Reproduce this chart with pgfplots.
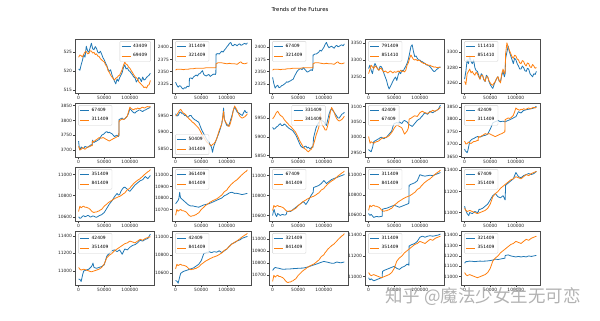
\documentclass[border=0pt]{standalone}
\usepackage{pgfplots}
\usepackage{pgfplotstable}
\pgfplotsset{compat=1.18}
\usepackage{fontspec}
\setmainfont{DejaVu Sans}
\newfontfamily\cjk{Noto Sans CJK SC}
\definecolor{c1}{HTML}{1F77B4}
\definecolor{c2}{HTML}{FF7F0E}
\pgfplotsset{
  panel/.style={
    scale only axis, width=79pt, height=54pt, anchor=south west,
    xmin=-7, xmax=147, xtick={0,50,100}, xticklabels={0,50000,100000},
    scaled ticks=false,
    /pgf/number format/assume math mode=true,
    /pgf/number format/1000 sep={},
    tick align=outside, tick pos=left, major tick length=1.8pt,
    every tick/.style={black!75, line width=0.4pt},
    axis line style={black!70, line width=0.5pt},
    tick label style={font=\fontsize{4.4}{5}\selectfont, text=black!85},
    xticklabel style={inner sep=1pt}, yticklabel style={inner sep=1pt},
    legend cell align=left,
    legend image code/.code={\draw[##1, line width=0.8pt] (0pt,0pt) -- (9pt,0pt);},
    legend style={draw=black!18, rounded corners=1pt, fill=white, fill opacity=0.8, text opacity=1,
      font=\fontsize{4.4}{5}\selectfont, inner xsep=1.5pt, inner ysep=1pt,
      at={(0.04,0.96)}, anchor=north west, row sep=0.6pt},
    every axis plot/.append style={line width=0.8pt, no markers, line join=round},
  },
}
% shared series
\pgfplotstableread{
x y
0 2353
2.5 2355
5 2355
10 2355
15 2354
20 2355
25 2355
30 2356
35 2356
40 2357
45 2357
50 2357
55 2357
60 2358
65 2358
70 2358
75 2358
78.5 2358
79 2366
82.5 2368
85 2368
90 2368
95 2367
100 2366
105 2367
110 2366
115 2366
120 2365
125 2369
127.5 2370
130 2367
135 2366
140 2368
}\tA
\pgfplotstableread{
x y
0 5948
2.5 5952
5 5958
7.5 5965
10 5968
12.5 5962
15 5957
17.5 5955
20 5952
22.5 5946
25 5942
27.5 5938
30 5935
32.5 5930
35 5928
37.5 5924
40 5920
42.5 5916
45 5912
47.5 5905
50 5898
52.5 5890
55 5884
57.5 5878
60 5872
62.5 5868
65 5866
67.5 5862
70 5860
72.5 5864
75 5866
77.5 5872
80 5880
82.5 5892
85 5905
87.5 5915
90 5925
92 5945
93.5 5962
95 5938
97.5 5930
100 5925
102.5 5918
105 5918
107.5 5930
110 5945
112.5 5965
115 5978
117.5 5972
120 5965
122.5 5955
125 5948
127.5 5944
130 5942
132.5 5944
135 5946
137.5 5950
140 5955
}\tB
\pgfplotstableread{
x y
0 3712
2.5 3700
5 3702
7.5 3708
10 3705
12.5 3702
15 3706
17.5 3710
20 3710
22.5 3712
25 3715
26.5 3714
27 3730
30 3728
32.5 3732
35 3735
37.5 3738
40 3742
42.5 3740
45 3740
47.5 3742
50 3740
52.5 3737
55 3735
57.5 3732
60 3730
62.5 3733
65 3735
67.5 3738
70 3740
72.5 3742
75 3745
77.5 3748
78.5 3750
79 3798
82.5 3802
85 3805
87.5 3803
90 3805
92.5 3810
95 3815
97.5 3830
100 3845
102.5 3840
105 3838
107.5 3836
110 3840
112.5 3838
115 3842
117.5 3840
120 3840
122.5 3843
125 3845
127.5 3842
130 3843
132.5 3846
135 3847
137.5 3845
140 3848
}\tC
\pgfplotstableread{
x y
0 10650
2.5 10700
5 10685
7.5 10695
10 10700
12.5 10690
15 10690
17.5 10685
20 10680
22.5 10670
25 10655
27.5 10645
30 10640
32.5 10645
35 10645
37.5 10652
40 10655
42.5 10665
45 10670
47.5 10685
50 10700
52.5 10710
55 10720
57.5 10732
60 10740
62.5 10748
65 10755
67.5 10765
70 10770
72.5 10778
75 10782
77.5 10788
80 10792
82.5 10800
85 10808
87.5 10818
90 10825
92.5 10840
95 10855
97.5 10862
100 10870
102.5 10888
105 10900
107.5 10915
110 10925
112.5 10935
115 10945
117.5 10952
120 10960
122.5 10972
125 10982
127.5 10995
130 11005
132.5 11015
135 11025
137.5 11032
140 11045
}\tD
\pgfplotstableread{
x y
0 11040
2.5 11020
5 11010
7.5 11015
10 11020
12.5 11015
15 11010
17.5 11005
20 11000
22.5 10995
25 10990
27.5 10995
30 11000
32.5 11005
35 11010
37.5 11015
40 11020
42.5 11030
45 11040
47.5 11060
50 11080
52.5 11115
55 11150
57.5 11165
60 11180
62.5 11190
65 11200
67.5 11215
70 11230
72.5 11240
75 11250
77.5 11260
80 11270
82.5 11280
85 11290
87.5 11300
90 11310
92.5 11315
95 11320
97.5 11330
100 11340
102.5 11335
105 11330
107.5 11325
110 11320
112.5 11330
115 11340
117.5 11350
120 11360
122.5 11355
125 11350
127.5 11360
130 11370
132.5 11375
135 11380
137.5 11385
140 11390
}\tE
\begin{document}
\begin{tikzpicture}
\path[use as bounding box] (0pt,0pt) rectangle (600pt,321pt);
\node[font=\fontsize{5.4}{6}\selectfont] at (300pt,311.5pt) {Trends of the Futures};

% ---------- Row 1 ----------
\begin{axis}[panel, at={(75pt,228pt)}, ymin=514.2, ymax=528.4, ytick={515,520,525},
  legend style={at={(0.96,0.96)},anchor=north east}]
\addplot[c1] coordinates {(0,520.5)(2.5,520.2)(5,521.6)(7.5,522.8)(10,524.3)(12.5,523.6)(15,526.5)(17.5,525.3)(20,524.9)(22.5,526.1)(25,527.3)(27.5,525.8)(30,525.6)(32.5,526.4)(35,525.9)(37.5,524.9)(40,524.7)(42.5,525.2)(45,524.4)(47.5,523.5)(50,522.9)(52.5,522.1)(55,521.4)(57.5,520.4)(60,519.9)(62.5,520.3)(65,519.0)(67.5,518.1)(70,517.3)(72.5,516.6)(75,517.9)(77.5,517.3)(80,518.2)(82.5,518.9)(85,519.6)(87.5,520.9)(90,521.6)(92.5,520.5)(95,520.8)(97.5,520.1)(100,519.9)(102.5,519.4)(105,519.0)(107.5,518.4)(110,518.2)(112.5,517.1)(115,517.6)(117.5,518.3)(120,517.9)(122.5,517.2)(125,518.4)(127.5,517.6)(130,517.8)(132.5,518.3)(135,518.6)(137.5,518.9)(140,519.4)};
\addplot[c2] coordinates {(0,523.6)(2.5,524.2)(5,524.0)(7.5,523.7)(10,524.4)(12.5,525.0)(15,525.1)(17.5,524.5)(20,524.6)(22.5,525.3)(25,525.2)(27.5,524.7)(30,524.9)(32.5,524.3)(35,524.5)(37.5,523.9)(40,523.8)(42.5,523.2)(45,522.9)(47.5,522.6)(50,522.4)(52.5,521.6)(55,521.2)(57.5,520.1)(60,519.6)(62.5,518.9)(65,518.4)(67.5,518.0)(70,517.6)(72.5,518.1)(75,518.3)(77.5,518.7)(80,518.9)(82.5,519.6)(85,520.4)(87.5,521.5)(90,522.3)(92.5,521.8)(95,521.6)(97.5,521.0)(100,520.7)(102.5,520.1)(105,519.6)(107.5,519.0)(110,518.5)(112.5,518.2)(115,517.9)(117.5,517.1)(120,516.8)(122.5,516.4)(125,516.1)(127.5,515.6)(130,515.8)(132.5,515.5)(135,516.2)(137.5,516.4)(140,517.5)};
\legend{43409,69409}
\end{axis}

\begin{axis}[panel, at={(172pt,228pt)}, ymin=2306, ymax=2417, ytick={2325,2350,2375,2400}]
\addplot[c1] coordinates {(0,2328)(2.5,2322)(5,2318)(7.5,2321)(10,2320)(12.5,2316)(15,2314)(17.5,2317)(20,2316)(22.5,2320)(25,2319)(26.5,2320)(27,2336)(30,2337)(32.5,2335)(35,2339)(37.5,2341)(40,2343)(42.5,2341)(45,2345)(47.5,2346)(50,2349)(52.5,2352)(55,2344)(57.5,2342)(60,2341)(62.5,2343)(65,2344)(67.5,2340)(70,2342)(72.5,2344)(75,2345)(77.5,2344)(78.5,2347)(79,2386)(82.5,2387)(85,2386)(87.5,2389)(90,2392)(92.5,2390)(95,2394)(97.5,2397)(100,2401)(102.5,2404)(105,2408)(107.5,2410)(110,2404)(112.5,2403)(115,2406)(117.5,2405)(120,2403)(122.5,2406)(125,2407)(127.5,2404)(130,2405)(132.5,2407)(135,2408)(137.5,2406)(140,2409)};
\addplot[c2] table[x=x,y=y] {\tA};
\legend{311409,321409}
\end{axis}

\begin{axis}[panel, at={(269pt,228pt)}, ymin=2306, ymax=2417, ytick={2325,2350,2375,2400}]
\addplot[c1] coordinates {(0,2338)(2.5,2325)(5,2316)(7.5,2320)(10,2322)(12.5,2317)(15,2318)(17.5,2321)(20,2322)(22.5,2324)(25,2326)(27.5,2329)(30,2328)(32.5,2330)(35,2331)(37.5,2333)(40,2334)(42.5,2340)(45,2345)(47.5,2350)(50,2353)(52.5,2355)(55,2356)(57.5,2354)(60,2358)(62.5,2355)(65,2352)(67.5,2349)(70,2350)(72.5,2352)(75,2354)(77.5,2352)(78.5,2356)(79,2384)(82.5,2386)(85,2386)(87.5,2388)(90,2390)(92.5,2394)(95,2392)(97.5,2396)(100,2400)(102.5,2406)(105,2410)(107.5,2403)(110,2399)(112.5,2401)(115,2402)(117.5,2400)(120,2398)(122.5,2402)(125,2404)(127.5,2401)(130,2402)(132.5,2404)(135,2405)(137.5,2403)(140,2407)};
\addplot[c2] table[x=x,y=y] {\tA};
\legend{67409,321409}
\end{axis}

\begin{axis}[panel, at={(365pt,228pt)}, ymin=3203, ymax=3362, ytick={3250,3300,3350}]
\addplot[c1] coordinates {(0,3275)(2.5,3285)(5,3270)(7.5,3260)(10,3280)(12.5,3290)(15,3282)(17.5,3275)(20,3270)(22.5,3282)(25,3280)(27.5,3272)(30,3260)(32.5,3250)(35,3240)(37.5,3225)(40,3215)(42.5,3222)(45,3230)(47.5,3238)(50,3245)(52.5,3250)(55,3240)(57.5,3255)(60,3265)(62.5,3260)(65,3270)(67.5,3268)(70,3275)(72.5,3282)(75,3290)(77.5,3302)(80,3320)(82.5,3340)(85,3345)(87.5,3325)(90,3310)(92.5,3312)(95,3305)(97.5,3300)(100,3300)(102.5,3296)(105,3295)(107.5,3292)(110,3290)(112.5,3286)(115,3285)(117.5,3283)(120,3280)(122.5,3275)(125,3270)(127.5,3266)(130,3268)(132.5,3272)(135,3275)(137.5,3278)(140,3280)};
\addplot[c2] coordinates {(0,3260)(2.5,3272)(5,3285)(7.5,3280)(10,3275)(12.5,3282)(15,3280)(17.5,3274)(20,3270)(22.5,3276)(25,3275)(27.5,3268)(30,3265)(32.5,3268)(35,3265)(37.5,3262)(40,3265)(42.5,3268)(45,3265)(47.5,3262)(50,3266)(52.5,3264)(55,3265)(57.5,3268)(60,3265)(62.5,3270)(65,3266)(67.5,3268)(70,3265)(72.5,3270)(75,3285)(77.5,3292)(80,3305)(82.5,3315)(85,3308)(87.5,3302)(90,3300)(92.5,3302)(95,3298)(97.5,3300)(100,3298)(102.5,3294)(105,3292)(107.5,3290)(110,3290)(112.5,3287)(115,3286)(117.5,3284)(120,3285)(122.5,3282)(125,3281)(127.5,3279)(130,3280)(132.5,3278)(135,3278)(137.5,3279)(140,3278)};
\legend{791409,851410}
\end{axis}

\begin{axis}[panel, at={(461pt,228pt)}, ymin=3247, ymax=3317, ytick={3260,3280,3300}]
\addplot[c1] coordinates {(0,3265)(2.5,3275)(5,3290)(7.5,3285)(10,3295)(12.5,3288)(15,3285)(17.5,3290)(20,3280)(22.5,3276)(25,3275)(27.5,3270)(30,3265)(32.5,3272)(35,3270)(37.5,3264)(40,3262)(42.5,3270)(45,3268)(47.5,3262)(50,3258)(52.5,3255)(55,3253)(57.5,3258)(60,3262)(62.5,3266)(65,3268)(67.5,3262)(70,3262)(72.5,3270)(75,3275)(77.5,3268)(79,3272)(80,3292)(82.5,3300)(85,3308)(87.5,3300)(90,3295)(92.5,3290)(95,3285)(97.5,3292)(100,3290)(102.5,3285)(105,3282)(107.5,3278)(110,3278)(112.5,3282)(115,3280)(117.5,3276)(120,3275)(122.5,3279)(125,3278)(127.5,3272)(130,3270)(132.5,3268)(135,3272)(137.5,3271)(140,3275)};
\addplot[c2] coordinates {(0,3262)(2.5,3258)(5,3272)(7.5,3275)(10,3278)(12.5,3273)(15,3275)(17.5,3272)(20,3270)(22.5,3274)(25,3272)(27.5,3268)(30,3265)(32.5,3270)(35,3270)(37.5,3265)(40,3262)(42.5,3268)(45,3268)(47.5,3263)(50,3260)(52.5,3258)(55,3257)(57.5,3260)(60,3262)(62.5,3266)(65,3268)(67.5,3263)(70,3260)(72.5,3272)(75,3278)(77.5,3272)(79,3275)(80,3298)(82.5,3312)(85,3306)(87.5,3302)(90,3298)(92.5,3294)(95,3292)(97.5,3296)(100,3295)(102.5,3291)(105,3290)(107.5,3286)(110,3285)(112.5,3289)(115,3288)(117.5,3284)(120,3282)(122.5,3286)(125,3285)(127.5,3281)(130,3280)(132.5,3284)(135,3282)(137.5,3279)(140,3280)};
\legend{111410,851410}
\end{axis}

% ---------- Row 2 ----------
\begin{axis}[panel, at={(75pt,164pt)}, ymin=3676, ymax=3859, ytick={3700,3750,3800,3850}]
\addplot[c1] coordinates {(0,3730)(1.5,3705)(2.5,3700)(5,3710)(7.5,3706)(10,3705)(12.5,3712)(15,3710)(17.5,3708)(20,3712)(22.5,3715)(25,3718)(26.5,3716)(27,3733)(30,3725)(32.5,3728)(35,3730)(37.5,3733)(40,3735)(42.5,3742)(45,3750)(47.5,3752)(50,3755)(52.5,3760)(55,3762)(57.5,3758)(60,3760)(62.5,3757)(65,3755)(67.5,3750)(70,3745)(72.5,3748)(75,3750)(77.5,3745)(78.5,3748)(79,3803)(82.5,3806)(85,3808)(87.5,3803)(90,3805)(92.5,3810)(95,3815)(97.5,3825)(100,3840)(102.5,3835)(105,3830)(107.5,3826)(110,3825)(112.5,3830)(115,3832)(117.5,3835)(120,3835)(122.5,3832)(125,3830)(127.5,3834)(130,3835)(132.5,3838)(135,3840)(137.5,3842)(140,3845)};
\addplot[c2] table[x=x,y=y] {\tC};
\legend{67409,311409}
\end{axis}

\begin{axis}[panel, at={(172pt,164pt)}, ymin=5826, ymax=5987, ytick={5850,5900,5950},
  legend style={at={(0.04,0.04)},anchor=south west}]
\addplot[c1] coordinates {(0,5955)(2.5,5948)(5,5950)(7.5,5958)(10,5960)(12.5,5955)(15,5955)(17.5,5950)(20,5950)(22.5,5945)(25,5945)(27.5,5950)(30,5950)(32.5,5944)(35,5940)(37.5,5937)(40,5935)(42.5,5932)(45,5930)(47.5,5920)(50,5910)(52.5,5902)(55,5895)(57.5,5888)(60,5880)(62.5,5875)(65,5870)(67.5,5862)(70,5855)(72,5840)(73.5,5852)(75,5860)(77.5,5870)(80,5880)(82.5,5890)(85,5900)(87.5,5912)(90,5925)(92,5945)(93.5,5972)(95,5940)(97.5,5928)(100,5920)(102.5,5918)(105,5925)(107.5,5938)(110,5950)(112.5,5965)(115,5975)(117.5,5968)(120,5960)(122.5,5958)(125,5955)(127.5,5952)(130,5950)(132.5,5958)(135,5965)(137.5,5958)(140,5960)};
\addplot[c2] table[x=x,y=y] {\tB};
\legend{50409,341409}
\end{axis}

\begin{axis}[panel, at={(269pt,164pt)}, ymin=5846, ymax=5990, ytick={5850,5900,5950},
  legend style={at={(0.5,0.96)},anchor=north}]
\addplot[c1] coordinates {(0,5925)(2.5,5920)(5,5922)(7.5,5926)(10,5928)(12.5,5932)(15,5935)(17.5,5930)(20,5930)(22.5,5934)(25,5932)(27.5,5928)(30,5925)(32.5,5922)(35,5920)(37.5,5918)(40,5915)(42.5,5910)(45,5905)(47.5,5898)(50,5890)(52.5,5882)(55,5875)(57.5,5872)(60,5870)(62.5,5874)(65,5875)(67.5,5870)(70,5872)(72.5,5868)(75,5870)(77.5,5874)(78.5,5872)(80,5898)(82.5,5912)(85,5925)(87.5,5932)(90,5938)(92.5,5942)(95,5945)(97.5,5942)(100,5940)(102.5,5934)(105,5930)(107.5,5945)(110,5960)(112.5,5970)(115,5975)(117.5,5970)(120,5965)(122.5,5960)(125,5955)(127.5,5950)(130,5950)(132.5,5955)(135,5960)(137.5,5962)(140,5965)};
\addplot[c2] table[x=x,y=y] {\tB};
\legend{331409,341409}
\end{axis}

\begin{axis}[panel, at={(365pt,164pt)}, ymin=2935, ymax=3112, ytick={2950,3000,3050,3100}]
\addplot[c1] coordinates {(0,2960)(1.5,2956)(3,2955)(5,2952)(6.5,2960)(8,2968)(10,2985)(12.5,2988)(15,2990)(17.5,2993)(20,2995)(22.5,2998)(25,3000)(27.5,2997)(30,2995)(32.5,2998)(35,3000)(37.5,3005)(40,3010)(42.5,3015)(45,3020)(47.5,3035)(50,3045)(52.5,3046)(55,3048)(57.5,3046)(60,3050)(62.5,3047)(65,3045)(67.5,3052)(70,3055)(72.5,3052)(75,3050)(77.5,3044)(80,3040)(82.5,3038)(85,3035)(87.5,3040)(90,3045)(92.5,3050)(95,3055)(97.5,3058)(100,3060)(102.5,3066)(105,3070)(107.5,3076)(110,3080)(112.5,3077)(115,3075)(117.5,3080)(120,3085)(122.5,3082)(125,3080)(127.5,3083)(130,3085)(132.5,3088)(135,3090)(137.5,3096)(140,3105)};
\addplot[c2] coordinates {(0,3002)(1.5,2990)(3,2980)(5,2985)(7.5,2982)(10,2980)(12.5,2983)(15,2985)(17.5,2986)(20,2988)(22.5,2992)(25,2995)(27.5,2997)(30,2998)(32.5,2999)(35,3000)(37.5,3002)(40,3005)(42.5,3010)(45,3015)(47.5,3022)(50,3030)(52.5,3035)(55,3040)(57.5,3038)(60,3035)(62.5,3033)(65,3030)(67.5,3020)(70,3010)(72.5,3015)(75,3020)(77.5,3030)(79,3058)(80,3060)(82.5,3062)(85,3065)(87.5,3068)(90,3070)(92.5,3069)(95,3068)(97.5,3074)(100,3080)(102.5,3083)(105,3085)(107.5,3082)(110,3080)(112.5,3079)(115,3078)(117.5,3080)(120,3082)(122.5,3085)(125,3088)(127.5,3086)(130,3085)(132.5,3088)(135,3090)(137.5,3093)(140,3098)};
\legend{42409,67409}
\end{axis}

\begin{axis}[panel, at={(461pt,164pt)}, ymin=3648, ymax=3865, ytick={3650,3700,3750,3800,3850}]
\addplot[c1] coordinates {(0,3680)(1.5,3672)(3,3670)(5,3665)(6.5,3675)(8,3690)(10,3710)(12.5,3716)(15,3720)(17.5,3722)(20,3725)(22.5,3728)(25,3730)(27.5,3729)(30,3728)(32.5,3730)(35,3732)(37.5,3734)(40,3735)(42.5,3737)(45,3740)(47.5,3750)(50,3760)(52.5,3772)(55,3785)(57.5,3788)(60,3790)(62.5,3792)(65,3795)(67.5,3792)(70,3790)(72.5,3791)(75,3792)(77.5,3790)(80,3790)(82.5,3793)(85,3795)(87.5,3797)(90,3800)(92.5,3802)(95,3805)(97.5,3808)(100,3810)(102.5,3820)(105,3830)(107.5,3827)(110,3825)(112.5,3830)(115,3835)(117.5,3836)(120,3838)(122.5,3839)(125,3840)(127.5,3841)(130,3842)(132.5,3843)(135,3845)(137.5,3848)(140,3852)};
\addplot[c2] table[x=x,y=y] {\tC};
\legend{42409,311409}
\end{axis}

% ---------- Row 3 ----------
\begin{axis}[panel, at={(75pt,100pt)}, ymin=10560, ymax=11070, ytick={10600,10800,11000}]
\addplot[c1] coordinates {(0,10600)(2.5,10585)(5,10590)(7.5,10605)(10,10610)(12.5,10600)(15,10605)(17.5,10612)(20,10610)(22.5,10598)(25,10600)(27.5,10608)(30,10605)(32.5,10598)(35,10595)(37.5,10602)(40,10610)(42.5,10615)(45,10620)(47.5,10630)(50,10640)(52.5,10660)(55,10680)(57.5,10700)(60,10720)(62.5,10735)(65,10750)(67.5,10770)(70,10790)(72.5,10805)(75,10820)(77.5,10805)(80,10810)(82.5,10840)(85,10860)(87.5,10875)(90,10880)(92.5,10870)(95,10860)(97.5,10848)(100,10840)(102.5,10855)(105,10870)(107.5,10885)(110,10900)(112.5,10910)(115,10920)(117.5,10930)(120,10940)(122.5,10945)(125,10950)(127.5,10965)(130,10980)(132.5,10970)(135,10960)(137.5,10975)(140,10990)};
\addplot[c2] table[x=x,y=y] {\tD};
\legend{351409,841409}
\end{axis}

\begin{axis}[panel, at={(172pt,100pt)}, ymin=10600, ymax=11070, ytick={10700,10800,10900,11000}]
\addplot[c1] coordinates {(0,10750)(2.5,10765)(5,10780)(6.5,10800)(8,10850)(9,10815)(10,10800)(12.5,10790)(15,10780)(17.5,10770)(20,10760)(22.5,10750)(25,10740)(27.5,10735)(30,10730)(32.5,10732)(35,10730)(37.5,10726)(40,10725)(42.5,10722)(45,10720)(47.5,10725)(50,10730)(52.5,10735)(55,10740)(57.5,10742)(60,10745)(62.5,10748)(65,10750)(67.5,10755)(70,10760)(72.5,10765)(75,10770)(77.5,10775)(80,10780)(82.5,10786)(85,10790)(87.5,10795)(90,10800)(92.5,10810)(95,10820)(97.5,10825)(100,10830)(102.5,10838)(105,10845)(107.5,10848)(110,10850)(112.5,10845)(115,10840)(117.5,10842)(120,10840)(122.5,10838)(125,10835)(127.5,10832)(130,10830)(132.5,10833)(135,10835)(137.5,10838)(140,10840)};
\addplot[c2] table[x=x,y=y] {\tD};
\legend{361409,841409}
\end{axis}

\begin{axis}[panel, at={(269pt,100pt)}, ymin=10545, ymax=11085, ytick={10600,10800,11000}]
\addplot[c1] coordinates {(0,10600)(1.5,10640)(3,10660)(5,10620)(6.5,10600)(8,10590)(10,10620)(12.5,10610)(15,10600)(17.5,10608)(20,10610)(22.5,10604)(25,10605)(27,10615)(28,10640)(30,10640)(32.5,10642)(35,10640)(37.5,10650)(40,10660)(42.5,10670)(45,10680)(47.5,10690)(50,10700)(52.5,10710)(55,10720)(57.5,10730)(60,10740)(62.5,10725)(65,10710)(67.5,10730)(70,10750)(72.5,10775)(75,10800)(77.5,10820)(79,10830)(80,10880)(82.5,10885)(85,10890)(87.5,10895)(90,10900)(92.5,10910)(95,10920)(97.5,10935)(100,10950)(102.5,10935)(105,10920)(107.5,10930)(110,10940)(112.5,10950)(115,10960)(117.5,10965)(120,10970)(122.5,10975)(125,10980)(127.5,10985)(130,10990)(132.5,10995)(135,11000)(137.5,11005)(140,11010)};
\addplot[c2] table[x=x,y=y] {\tD};
\legend{67409,841409}
\end{axis}

\begin{axis}[panel, at={(365pt,100pt)}, ymin=10545, ymax=11075, ytick={10600,10800,11000}]
\addplot[c1] coordinates {(0,10620)(1.5,10605)(3,10600)(5,10610)(7.5,10595)(10,10580)(12.5,10585)(15,10590)(17.5,10588)(20,10585)(22.5,10588)(25,10590)(26.5,10592)(27,10660)(30,10665)(32.5,10668)(35,10670)(37.5,10675)(40,10680)(42.5,10685)(45,10690)(47.5,10695)(50,10700)(52.5,10695)(55,10690)(57.5,10685)(60,10680)(62.5,10685)(65,10690)(67.5,10695)(70,10700)(72.5,10705)(75,10710)(77.5,10715)(78.5,10720)(79,10895)(82.5,10905)(85,10910)(87.5,10915)(90,10920)(92.5,10930)(95,10940)(97.5,10970)(100,11000)(102.5,10995)(105,10990)(107.5,10988)(110,10985)(112.5,10988)(115,10990)(117.5,10992)(120,10995)(122.5,10992)(125,10990)(127.5,10995)(130,11000)(132.5,11005)(135,11010)(137.5,11015)(140,11020)};
\addplot[c2] table[x=x,y=y] {\tD};
\legend{311409,841409}
\end{axis}

\begin{axis}[panel, at={(461pt,100pt)}, ymin=10920, ymax=11432, ytick={11000,11200,11400}]
\addplot[c1] coordinates {(0,11060)(1.5,11030)(2.5,11020)(5,10990)(7.5,10975)(8,10970)(10,11000)(12.5,10995)(15,10990)(17.5,11000)(20,11010)(22.5,11005)(25,11000)(27,11010)(28,11030)(30,11030)(32.5,11035)(35,11040)(37.5,11050)(40,11060)(42.5,11070)(45,11080)(47.5,11100)(50,11120)(52.5,11140)(55,11160)(57.5,11170)(60,11180)(62.5,11165)(65,11150)(67.5,11145)(70,11140)(72.5,11150)(75,11160)(77.5,11135)(79,11120)(80,11260)(82.5,11270)(85,11280)(87.5,11290)(90,11300)(92.5,11310)(95,11320)(97.5,11350)(100,11380)(102.5,11360)(105,11340)(107.5,11335)(110,11330)(112.5,11340)(115,11350)(117.5,11355)(120,11360)(122.5,11365)(125,11370)(127.5,11365)(130,11360)(132.5,11365)(135,11370)(137.5,11380)(140,11390)};
\addplot[c2] table[x=x,y=y] {\tE};
\legend{67409,351409}
\end{axis}

% ---------- Row 4 ----------
\begin{axis}[panel, at={(75pt,36pt)}, ymin=10840, ymax=11455, ytick={11000,11200,11400}]
\addplot[c1] coordinates {(0,10910)(1.5,10905)(3,10900)(5,10880)(6.5,10920)(8,10960)(10,11000)(12.5,11005)(15,11010)(17.5,11015)(20,11020)(22.5,11035)(25,11050)(27,11070)(28,11090)(30,11040)(32.5,11035)(35,11030)(37.5,11035)(40,11040)(42.5,11045)(45,11050)(47.5,11060)(50,11070)(52.5,11120)(55,11170)(57.5,11185)(60,11200)(62.5,11215)(65,11230)(67.5,11235)(70,11240)(72.5,11230)(75,11220)(77.5,11230)(80,11240)(82.5,11215)(85,11190)(87.5,11220)(90,11250)(92.5,11245)(95,11240)(97.5,11255)(100,11270)(102.5,11280)(105,11290)(107.5,11295)(110,11300)(112.5,11310)(115,11320)(117.5,11335)(120,11350)(122.5,11345)(125,11340)(127.5,11350)(130,11360)(132.5,11365)(135,11370)(137.5,11395)(140,11420)};
\addplot[c2] table[x=x,y=y] {\tE};
\legend{42409,351409}
\end{axis}

\begin{axis}[panel, at={(172pt,36pt)}, ymin=10470, ymax=11070, ytick={10600,10800,11000}]
\addplot[c1] coordinates {(0,10520)(1.5,10515)(3,10510)(5,10490)(6.5,10525)(8,10560)(10,10600)(12.5,10610)(15,10620)(17.5,10625)(20,10630)(22.5,10635)(25,10640)(27.5,10645)(30,10650)(32.5,10655)(35,10660)(37.5,10670)(40,10680)(42.5,10690)(45,10700)(47.5,10720)(50,10740)(52.5,10780)(55,10820)(57.5,10825)(60,10830)(62.5,10835)(65,10840)(67.5,10835)(70,10830)(72.5,10835)(75,10840)(77.5,10838)(80,10835)(82.5,10842)(85,10850)(87.5,10840)(90,10830)(92.5,10840)(95,10850)(97.5,10860)(100,10870)(102.5,10885)(105,10900)(107.5,10915)(110,10930)(112.5,10935)(115,10940)(117.5,10950)(120,10960)(122.5,10965)(125,10970)(127.5,10980)(130,10990)(132.5,10995)(135,11000)(137.5,11005)(140,11010)};
\addplot[c2] table[x=x,y=y] {\tD};
\legend{42409,841409}
\end{axis}

\begin{axis}[panel, at={(269pt,36pt)}, ymin=10620, ymax=11066, ytick={10700,10800,10900,11000}]
\addplot[c1] coordinates {(0,10740)(2.5,10755)(5,10765)(7.5,10762)(10,10760)(12.5,10758)(15,10755)(17.5,10752)(20,10750)(25,10751)(30,10752)(35,10753)(40,10755)(45,10756)(50,10758)(55,10759)(60,10760)(65,10765)(70,10770)(75,10778)(80,10785)(85,10792)(90,10800)(95,10808)(100,10815)(102.5,10812)(105,10810)(107.5,10808)(110,10805)(112.5,10802)(115,10800)(117.5,10800)(120,10800)(122.5,10805)(125,10810)(127.5,10808)(130,10805)(132.5,10804)(135,10805)(137.5,10808)(140,10810)};
\addplot[c2] table[x=x,y=y] {\tD};
\legend{321409,841409}
\end{axis}

\begin{axis}[panel, at={(365pt,36pt)}, ymin=10920, ymax=11440, ytick={11000,11200,11400}]
\addplot[c1] coordinates {(0,10990)(1.5,10975)(3,10970)(5,10980)(7.5,10970)(10,10960)(12.5,10965)(15,10970)(17.5,10975)(20,10980)(22.5,10985)(25,10990)(26.5,10992)(27,11050)(30,11060)(32.5,11065)(35,11070)(37.5,11075)(40,11080)(42.5,11085)(45,11090)(47.5,11095)(50,11100)(52.5,11090)(55,11080)(57.5,11075)(60,11070)(62.5,11080)(65,11090)(67.5,11095)(70,11100)(72.5,11110)(75,11120)(77.5,11115)(78.5,11110)(79,11295)(82.5,11305)(85,11310)(87.5,11315)(90,11320)(92.5,11330)(95,11340)(97.5,11360)(100,11380)(102.5,11385)(105,11390)(107.5,11385)(110,11380)(112.5,11385)(115,11390)(117.5,11392)(120,11395)(122.5,11392)(125,11390)(127.5,11392)(130,11395)(132.5,11398)(135,11400)(137.5,11405)(140,11410)};
\addplot[c2] table[x=x,y=y] {\tE};
\legend{311409,351409}
\end{axis}

\begin{axis}[panel, at={(461pt,36pt)}, ymin=10920, ymax=11440, ytick={11000,11100,11200,11300,11400}]
\addplot[c1] coordinates {(0,11130)(2.5,11145)(5,11145)(7.5,11148)(10,11150)(15,11148)(20,11145)(25,11148)(30,11150)(35,11149)(40,11150)(45,11152)(50,11155)(55,11160)(60,11170)(65,11165)(70,11170)(75,11175)(78.5,11178)(79,11200)(80,11205)(85,11210)(90,11200)(95,11195)(100,11190)(105,11195)(110,11190)(115,11195)(120,11190)(125,11200)(130,11195)(135,11200)(140,11205)};
\addplot[c2] table[x=x,y=y] {\tE};
\legend{321409,351409}
\end{axis}

\node[anchor=west, text=black!30, font=\cjk\fontsize{17.5}{18}\selectfont, inner sep=0pt] at (385pt,24pt) {知乎 @魔法少女生无可恋};
\end{tikzpicture}
\end{document}
